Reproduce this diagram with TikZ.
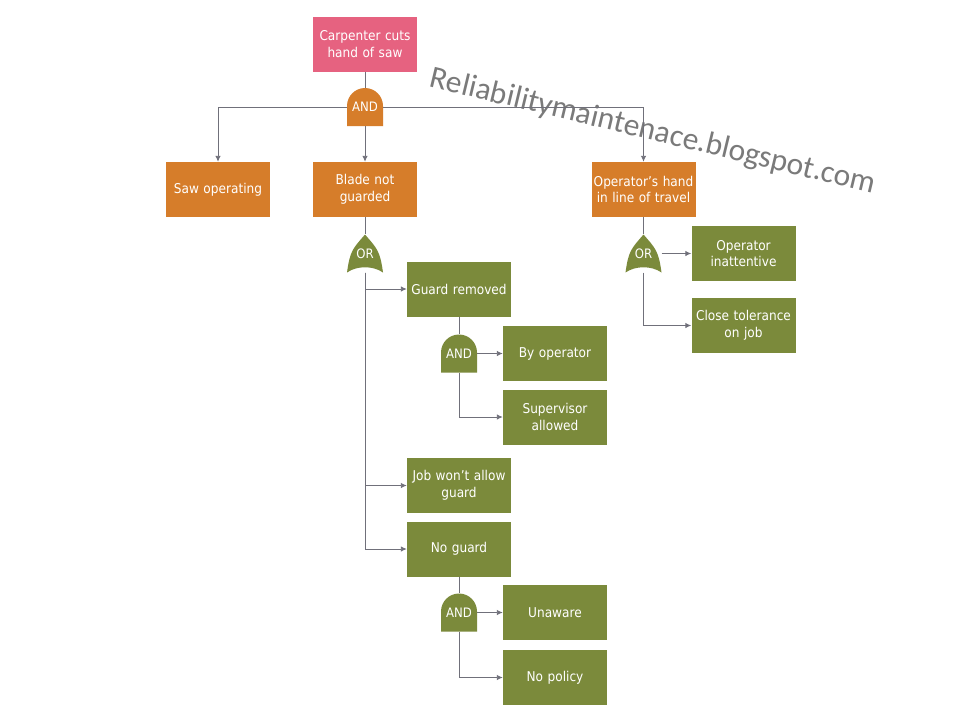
\documentclass[tikz,border=0pt]{standalone}
\usepackage{fontspec}
\setmainfont{DejaVu Sans Condensed}
\newfontfamily\wmfont{Carlito}
\usetikzlibrary{arrows.meta}
\definecolor{fpink}{RGB}{230,98,128}
\definecolor{forange}{RGB}{214,125,42}
\definecolor{fgreen}{RGB}{123,138,59}
\definecolor{fline}{RGB}{112,112,122}
\tikzset{
  box/.style={rectangle, fill=#1, text=white, minimum width=104pt, minimum height=55pt,
    inner sep=2pt, align=center, font=\fontsize{13.5}{16.5}\selectfont, text width=100pt},
  andgate/.style={rectangle, minimum width=36pt, minimum height=38pt, inner sep=0pt,
    text=white, font=\fontsize{13}{15}\selectfont,
    path picture={\fill[#1] (path picture bounding box.south west) -- ([yshift=20pt]path picture bounding box.south west)
      arc[start angle=180, end angle=0, radius=18pt] -- (path picture bounding box.south east) -- cycle;}},
  orgate/.style={rectangle, minimum width=36pt, minimum height=38pt, inner sep=0pt,
    text=white, font=\fontsize{13}{15}\selectfont,
    path picture={\fill[#1] (path picture bounding box.south west)
      .. controls +(3pt,22pt) and +(-12pt,-14pt) .. (path picture bounding box.north)
      .. controls +(12pt,-14pt) and +(-3pt,22pt) .. (path picture bounding box.south east)
      .. controls +(-10pt,7pt) and +(10pt,7pt) .. (path picture bounding box.south west) -- cycle;}},
  conn/.style={draw=fline, line width=0.9pt},
  arr/.style={conn, -{Latex[length=6pt,width=5.5pt]}}
}
\begin{document}
\begin{tikzpicture}[x=1pt,y=-1pt]
\useasboundingbox[fill=white] (0,0) rectangle (960,720);
% watermark
\node[text=black!52, font=\wmfont\fontsize{31.5}{32}\selectfont, rotate=-13.5, inner sep=0pt] (wm) at (653,132) {Reliabilitymaintenace.blogspot.com};
% boxes
\node[box=fpink] (top) at (365,44) {Carpenter cuts\\hand of saw};
\node[box=forange] (saw) at (218,189.5) {Saw operating};
\node[box=forange] (blade) at (365,189.5) {Blade not\\guarded};
\node[box=forange] (hand) at (643.5,189.5) {Operator's hand\\in line of travel};
\node[box=fgreen] (guard) at (459,289) {Guard removed};
\node[box=fgreen] (byop) at (555,353.5) {By operator};
\node[box=fgreen] (sup) at (555,417) {Supervisor\\allowed};
\node[box=fgreen] (job) at (459,485.5) {Job won't allow\\guard};
\node[box=fgreen] (nog) at (459,549) {No guard};
\node[box=fgreen] (unaw) at (555,612.5) {Unaware};
\node[box=fgreen] (nopol) at (555,677.5) {No policy};
\node[box=fgreen] (inatt) at (743.5,253.5) {Operator\\inattentive};
\node[box=fgreen] (close) at (743.5,325.5) {Close tolerance\\on job};
% gates
\node[andgate=forange] (g1) at (365,107) {\raisebox{-2pt}{AND}};
\node[orgate=fgreen] (g2) at (365,253.5) {\raisebox{-1pt}{OR}};
\node[andgate=fgreen] (g3) at (459,353.5) {\raisebox{-2pt}{AND}};
\node[andgate=fgreen] (g4) at (459,612.5) {\raisebox{-2pt}{AND}};
\node[orgate=fgreen] (g5) at (643.5,253.5) {\raisebox{-1pt}{OR}};
% connectors
\draw[conn] (top.south) -- (g1.north);
\draw[arr] (g1.west) -| (saw.north);
\draw[arr] (g1.south) -- (blade.north);
\draw[arr] (g1.east) -| (hand.north);
\draw[conn] (blade.south) -- (g2.north);
\draw[arr] (g2.south) |- (guard.west);
\draw[arr] (g2.south) |- (job.west);
\draw[arr] (g2.south) |- (nog.west);
\draw[conn] (guard.south) -- (g3.north);
\draw[arr] (g3.east) -- (byop.west);
\draw[arr] (g3.south) |- (sup.west);
\draw[conn] (nog.south) -- (g4.north);
\draw[arr] (g4.east) -- (unaw.west);
\draw[arr] (g4.south) |- (nopol.west);
\draw[conn] (hand.south) -- (g5.north);
\draw[arr] (g5.east) -- (inatt.west);
\draw[arr] (g5.south) |- (close.west);
\end{tikzpicture}
\end{document}
